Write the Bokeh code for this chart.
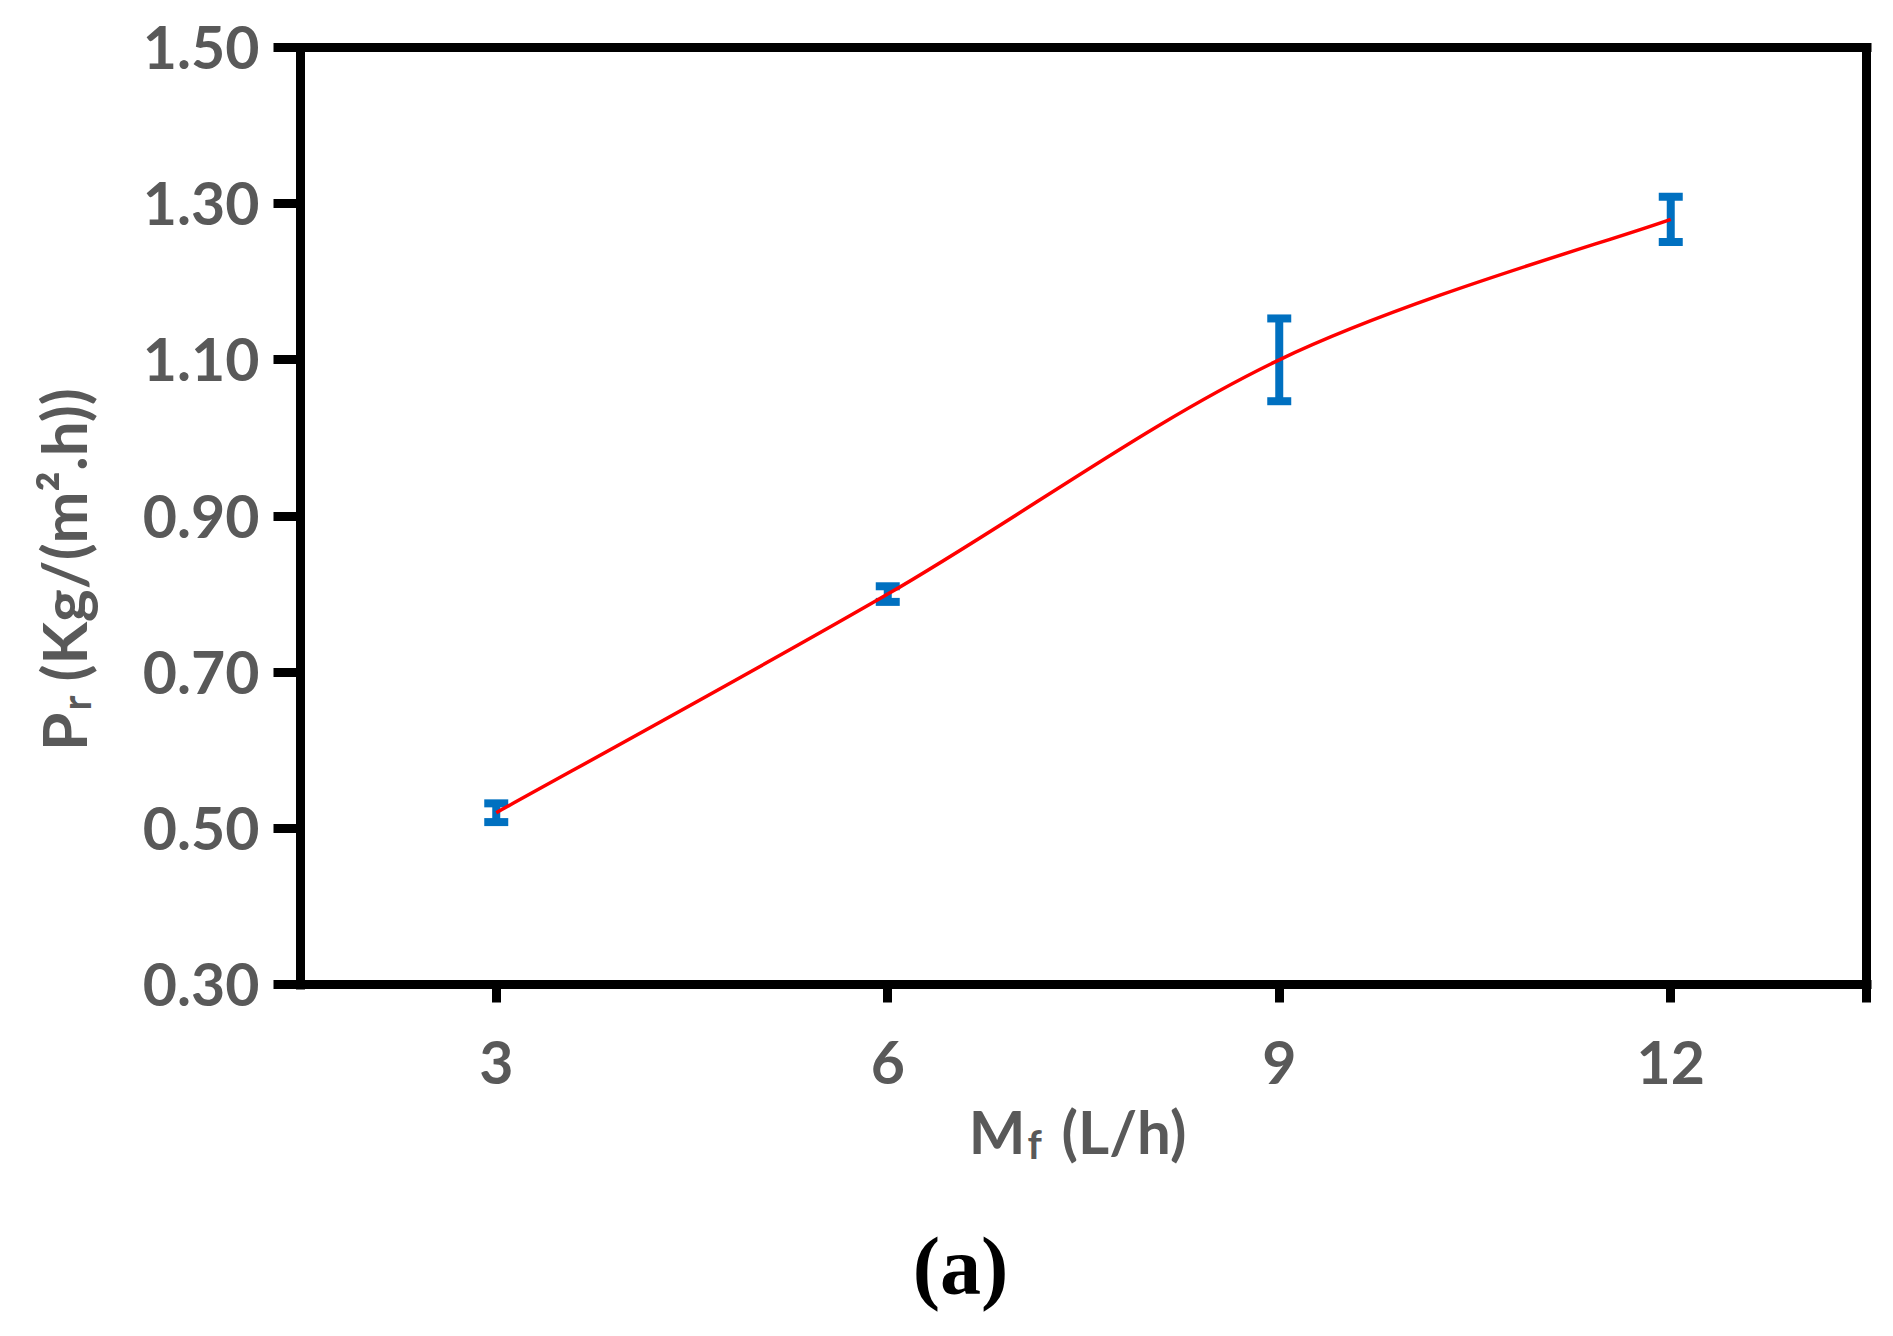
import numpy as np
from bokeh.plotting import figure
from bokeh.models import (ColumnDataSource, Whisker, TeeHead, FixedTicker, Label,
                          Range1d, NumeralTickFormatter, LinearAxis)
from bokeh.embed import file_html
from bokeh.resources import INLINE

# ---- data ----
flow = [3, 6, 9, 12]                      # Mf (L/h)
prod = [0.52, 0.80, 1.10, 1.28]           # Pr (Kg/(m2.h))
err = [0.012, 0.010, 0.053, 0.029]        # error bar half-heights
x_ticks = [3, 6, 9, 12, 13.5]
x_tick_labels = ["3", "6", "9", "12", ""]
y_ticks = [0.30, 0.50, 0.70, 0.90, 1.10, 1.30, 1.50]
y_tick_labels = ["0.30", "0.50", "0.70", "0.90", "1.10", "1.30", "1.50"]
x_lim = (1.5, 13.5)
y_lim = (0.30, 1.50)

# ---- layout (pixels) ----
W, H = 1877, 1330
BOX_L, BOX_R, BOX_T, BOX_B = 300, 1866, 47, 984
GRAY = "#595959"
FONT = "Lato"
LW = 9

kx = (BOX_R - BOX_L) / (x_lim[1] - x_lim[0])
ky = (BOX_B - BOX_T) / (y_lim[1] - y_lim[0])
xr = Range1d(x_lim[0] - BOX_L / kx, x_lim[1] + (W - BOX_R) / kx)
yr = Range1d(y_lim[0] - (H - BOX_B) / ky, y_lim[1] + BOX_T / ky)
dx = (LW / 2) / kx
dy = (LW / 2) / ky

p = figure(width=W, height=H, output_backend="svg", toolbar_location=None,
           x_range=xr, y_range=yr,
           min_border_left=0, min_border_right=0, min_border_top=0,
           min_border_bottom=0)
p.xgrid.visible = False
p.ygrid.visible = False
p.outline_line_color = None
p.background_fill_color = "white"
p.border_fill_color = "white"

for ax in (p.xaxis[0], p.yaxis[0]):
    ax.axis_line_color = "black"
    ax.axis_line_width = LW
    ax.major_tick_line_color = "black"
    ax.major_tick_line_width = LW
    ax.major_tick_in = 0
    ax.minor_tick_line_color = None
    ax.major_label_text_font = FONT
    ax.major_label_text_font_size = "59px"
    ax.major_label_text_font_style = "bold"
    ax.major_label_text_color = GRAY

p.xaxis.fixed_location = y_lim[0]
p.xaxis.bounds = (x_lim[0] - dx, x_lim[1] + dx)
p.xaxis.ticker = FixedTicker(ticks=x_ticks)
p.xaxis.major_label_overrides = dict(zip(x_ticks, x_tick_labels))
p.xaxis.major_tick_out = 18
p.xaxis.major_label_standoff = 38

p.yaxis.fixed_location = x_lim[0]
p.yaxis.bounds = (y_lim[0] - dy, y_lim[1] + dy)
p.yaxis.ticker = FixedTicker(ticks=y_ticks)
p.yaxis.formatter = NumeralTickFormatter(format="0.00")
p.yaxis.major_label_overrides = dict(zip(y_ticks, y_tick_labels))
p.yaxis.major_tick_out = 27
p.yaxis.major_label_standoff = 14


def frame_axis(loc, bounds):
    return LinearAxis(fixed_location=loc, bounds=bounds, ticker=FixedTicker(ticks=[]),
                      axis_line_color="black", axis_line_width=LW,
                      major_tick_line_color=None, minor_tick_line_color=None,
                      major_label_text_font_size="0px")


p.add_layout(frame_axis(y_lim[1], (x_lim[0] - dx, x_lim[1] + dx)), "above")
p.add_layout(frame_axis(x_lim[1], (y_lim[0] - dy, y_lim[1] + dy)), "right")

# ---- error bars ----
src = ColumnDataSource(dict(
    x=flow,
    upper=[v + e for v, e in zip(prod, err)],
    lower=[v - e for v, e in zip(prod, err)],
))
EB = "#0070C0"
p.add_layout(Whisker(source=src, base="x", upper="upper", lower="lower",
                     line_color=EB, line_width=8,
                     upper_head=TeeHead(size=24, line_width=8, line_color=EB),
                     lower_head=TeeHead(size=24, line_width=8, line_color=EB)))

# ---- smoothed line (Catmull-Rom -> cubic Bezier through the data points) ----
X = np.array(flow, dtype=float)
Y = np.array(prod, dtype=float)
Xp = np.concatenate([[X[0]], X, [X[-1]]])
Yp = np.concatenate([[Y[0]], Y, [Y[-1]]])
n = len(X)
cx0 = [Xp[i + 1] + (Xp[i + 2] - Xp[i]) / 6 for i in range(n - 1)]
cy0 = [Yp[i + 1] + (Yp[i + 2] - Yp[i]) / 6 for i in range(n - 1)]
cx1 = [Xp[i + 2] - (Xp[i + 3] - Xp[i + 1]) / 6 for i in range(n - 1)]
cy1 = [Yp[i + 2] - (Yp[i + 3] - Yp[i + 1]) / 6 for i in range(n - 1)]
p.bezier(x0=X[:-1], y0=Y[:-1], x1=X[1:], y1=Y[1:],
         cx0=cx0, cy0=cy0, cx1=cx1, cy1=cy1,
         line_color="#FF0000", line_width=3.5)


# ---- axis titles (with sub/superscripts), placed in canvas pixels ----
def lab(**kw):
    base = dict(text_font=FONT, text_font_style="bold", text_color=GRAY,
                text_baseline="alphabetic", x_units="canvas", y_units="canvas")
    base.update(kw)
    p.add_layout(Label(**base))


# x title: M_f (L/h)
lab(x=1025, y=1130, text="M", text_align="right", text_font_size="60px")
lab(x=1027, y=1143, text="f", text_align="left", text_font_size="40px")
lab(x=1061, y=1130, text="(L/h)", text_align="left", text_font_size="60px")

# y title: P_r (Kg/(m².h))
ang = np.pi / 2
lab(x=62, y=712, text="P", angle=ang, text_align="right", text_font_size="62px")
lab(x=75, y=710, text="r", angle=ang, text_align="left", text_font_size="40px")
lab(x=62, y=681, text="(Kg/(m².h))", angle=ang, text_align="left",
    text_font_size="62px")

# panel label
p.add_layout(Label(x=960, y=1266, x_units="canvas", y_units="canvas", text="(a)",
                   text_align="center", text_baseline="alphabetic",
                   text_font="Liberation Serif", text_font_style="bold",
                   text_font_size="82px", text_color="black"))

open("out.html", "w").write(file_html(p, INLINE))
